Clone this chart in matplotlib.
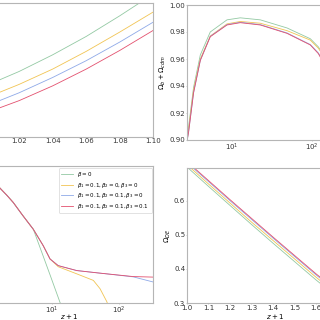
import matplotlib
matplotlib.use('Agg')
import matplotlib.pyplot as plt
import numpy as np
from matplotlib.ticker import NullLocator, FormatStrFormatter

# labels / colours
labels = [r'$\beta = 0$',
          r'$\beta_1 = 0.1, \beta_2 = 0, \beta_3 = 0$',
          r'$\beta_1 = 0.1, \beta_2 = 0.1, \beta_3 = 0$',
          r'$\beta_1 = 0.1, \beta_2 = 0.1, \beta_3 = 0.1$']
colors = ['#93c9a3', '#f1c453', '#8ea9e8', '#e3506e']

# top-left panel (arbitrary units, axis values cut off in the reference)
tl_x = [1.00, 1.02, 1.04, 1.06, 1.08, 1.10]
tl_y = [
    [0.380, 0.488, 0.613, 0.751, 0.906, 1.070],
    [0.289, 0.391, 0.506, 0.639, 0.784, 0.935],
    [0.227, 0.328, 0.443, 0.569, 0.709, 0.859],
    [0.176, 0.269, 0.380, 0.506, 0.646, 0.797],
]

# top-right panel: Omega_b + Omega_cdm
tr_x = [2.74, 2.87, 3.31, 4.02, 5.35, 8.66, 12.7, 22.6, 48.7, 95.3, 120, 140]
tr_y = [
    [0.902, 0.910, 0.939, 0.963, 0.980, 0.989, 0.9905, 0.989, 0.983, 0.975, 0.969, 0.963],
    [0.900, 0.908, 0.937, 0.960, 0.977, 0.986, 0.9878, 0.9865, 0.981, 0.974, 0.968, 0.962],
    [0.899, 0.906, 0.935, 0.959, 0.9768, 0.9855, 0.9872, 0.9855, 0.9793, 0.9707, 0.9645, 0.958],
    [0.899, 0.906, 0.935, 0.959, 0.9765, 0.9852, 0.9869, 0.9852, 0.979, 0.9704, 0.964, 0.957],
]

# bottom-left panel (arbitrary units)
bl_x_common = [1.0, 1.3, 1.65, 2.1, 2.62, 3.6, 5.24]
bl_y_common = [0.957, 0.895, 0.838, 0.785, 0.732, 0.640, 0.536]
bl_green_x = [7.4, 9.33, 13.2, 20]
bl_green_y = [0.337, 0.203, 0.0, -0.23]
bl_yellow_x = [7.4, 9.33, 12.4, 23.5, 41.8, 52.7, 66.5, 80]
bl_yellow_y = [0.415, 0.319, 0.262, 0.210, 0.162, 0.101, 0.007, -0.10]
bl_blue_x = [7.4, 9.33, 12.4, 23.5, 52.7, 166, 333]
bl_blue_y = [0.415, 0.319, 0.270, 0.234, 0.215, 0.188, 0.150]
bl_red_x = [7.4, 9.33, 12.4, 23.5, 52.7, 166, 333]
bl_red_y = [0.415, 0.319, 0.270, 0.234, 0.215, 0.190, 0.186]

# bottom-right panel: Omega_DE
br_x = [1.0, 1.1, 1.2, 1.3, 1.4, 1.5, 1.6, 1.7, 1.8]
br_y = [
    [0.700, 0.643, 0.587, 0.531, 0.476, 0.422, 0.368, 0.317, 0.268],
    [0.707, 0.650, 0.594, 0.538, 0.484, 0.430, 0.376, 0.325, 0.276],
    [0.713, 0.657, 0.601, 0.546, 0.491, 0.437, 0.383, 0.332, 0.282],
    [0.716, 0.660, 0.604, 0.549, 0.494, 0.440, 0.386, 0.335, 0.285],
]

plt.rcParams['font.size'] = 5
plt.rcParams['mathtext.fontset'] = 'dejavusans'

W = 320.0


def rect(left, top, right, bottom):
    return [left / W, (W - bottom) / W, (right - left) / W, (bottom - top) / W]


def style(ax):
    for s in ax.spines.values():
        s.set_color('#b5b5b5')
        s.set_linewidth(0.8)
    ax.tick_params(length=1, width=0.5, color='#b5b5b5', labelcolor='#333333',
                   labelsize=5, pad=0.3)


fig = plt.figure(figsize=(3.2, 3.2), dpi=100)
lw = 0.6

ax1 = fig.add_axes(rect(-14.5, 3.3, 153.3, 136.5))
for y, c in zip(tl_y, colors):
    ax1.plot(tl_x, y, color=c, lw=lw)
ax1.set_xlim(1.0, 1.1)
ax1.set_ylim(0, 1)
ax1.set_xticks([1.00, 1.02, 1.04, 1.06, 1.08, 1.10])
ax1.xaxis.set_major_formatter(FormatStrFormatter('%.2f'))
ax1.set_yticks([])
style(ax1)

ax2 = fig.add_axes(rect(187, 5, 354, 140))
for y, c in zip(tr_y, colors):
    ax2.plot(tr_x, y, color=c, lw=lw)
ax2.set_xscale('log')
ax2.set_xlim(2.74, 335)
ax2.xaxis.set_minor_locator(NullLocator())
ax2.set_ylim(0.90, 1.00)
ax2.set_yticks([0.90, 0.92, 0.94, 0.96, 0.98, 1.00])
ax2.yaxis.set_major_formatter(FormatStrFormatter('%.2f'))
ax2.set_ylabel(r'$\Omega_b + \Omega_{cdm}$', fontsize=5, labelpad=1)
style(ax2)

ax3 = fig.add_axes(rect(-14.5, 166, 153.3, 302.5))
ax3.plot(bl_x_common + bl_green_x, bl_y_common + bl_green_y, color=colors[0], lw=lw, label=labels[0])
ax3.plot(bl_x_common + bl_yellow_x, bl_y_common + bl_yellow_y, color=colors[1], lw=lw, label=labels[1])
ax3.plot(bl_x_common + bl_blue_x, bl_y_common + bl_blue_y, color=colors[2], lw=lw, label=labels[2])
ax3.plot(bl_x_common + bl_red_x, bl_y_common + bl_red_y, color=colors[3], lw=lw, label=labels[3])
ax3.set_xscale('log')
ax3.set_xlim(1, 333)
ax3.xaxis.set_minor_locator(NullLocator())
ax3.set_ylim(0, 1)
ax3.set_yticks([])
ax3.set_xlabel(r'$z + 1$', fontsize=5)
ax3.xaxis.set_label_coords(0.5, -0.066)
leg = ax3.legend(loc='upper right', fontsize=4.0, borderaxespad=0.3,
                 handlelength=2.2, labelspacing=0.3, frameon=True)
leg.get_frame().set_edgecolor('#cccccc')
leg.get_frame().set_linewidth(0.5)
style(ax3)

ax4 = fig.add_axes(rect(187, 168, 354, 303))
for y, c in zip(br_y, colors):
    ax4.plot(br_x, y, color=c, lw=lw)
ax4.set_xlim(1.0, 1.777)
ax4.set_ylim(0.3, 0.697)
ax4.set_xticks([1.0, 1.1, 1.2, 1.3, 1.4, 1.5, 1.6, 1.7])
ax4.xaxis.set_major_formatter(FormatStrFormatter('%.1f'))
ax4.set_yticks([0.3, 0.4, 0.5, 0.6])
ax4.yaxis.set_major_formatter(FormatStrFormatter('%.1f'))
ax4.set_xlabel(r'$z + 1$', fontsize=5)
ax4.xaxis.set_label_coords(0.527, -0.064)
ax4.set_ylabel(r'$\Omega_{DE}$', fontsize=5, labelpad=1)
style(ax4)

fig.savefig('out.png', dpi=100)
